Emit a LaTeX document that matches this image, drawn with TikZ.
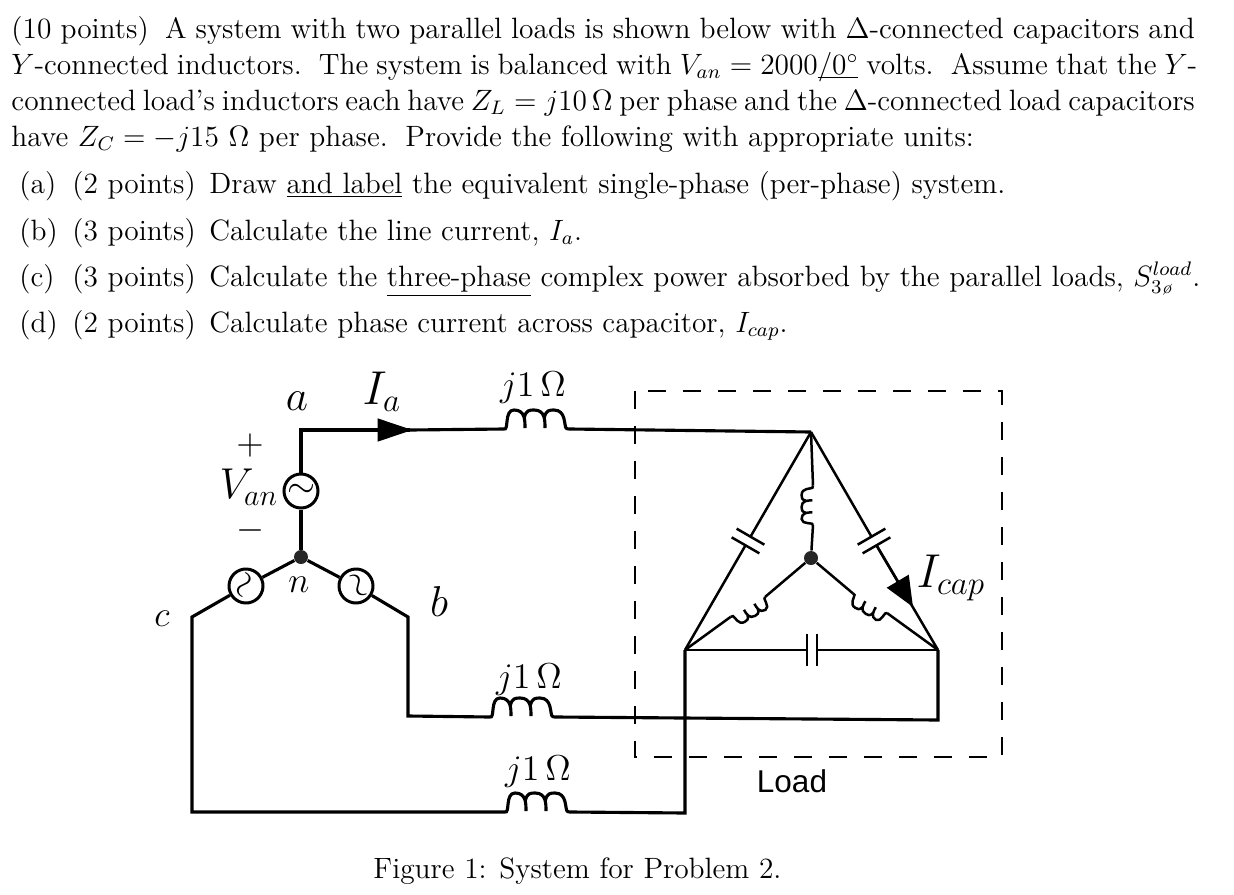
\documentclass[tikz,border=0pt]{standalone}
\usepackage{fontspec}
\usetikzlibrary{arrows.meta}
\newfontfamily\loadfont{Liberation Sans}
\newcommand{\fullline}[1]{\makebox[483pt][s]{#1}}
\newcommand{\qitem}[3]{\makebox[21.6pt][l]{(#1)}\makebox[55.9pt][l]{(#2 points)}#3}
\tikzset{
	wire/.style={line width=1.25pt,line join=miter},
	thinwire/.style={line width=1pt},
	qline/.style={anchor=base west,inner sep=0pt,font=\large,scale=0.98,transform shape},
	mlabel/.style={inner sep=0pt,font=\Large},
	biglabel/.style={inner sep=0pt,font=\LARGE},
	acsrc/.style={circle,draw,fill=white,line width=1.2pt,minimum size=13.6pt,inner sep=0pt,font=\Large},
	dotnode/.style={circle,fill=black!85,inner sep=0pt,minimum size=5.6pt},
	coil/.pic={
		\draw[pic actions] (0,0) .. controls (5,2) and (0,-19) .. (10,-19) .. controls (21,-19) and (21,-9) .. (21,-1)
			(20.5,-12) .. controls (22,-19) and (26,-19) .. (30,-19) .. controls (41,-19) and (41,-9) .. (41,-1)
			(40.5,-12) .. controls (42,-19) and (46,-19) .. (50,-19) .. controls (62,-19) and (60,-4) .. (62,-1) .. controls (62.5,0) and (64,0) .. (66,0);
		\coordinate (-in) at (0,0);
		\coordinate (-out) at (66,0);
	},
	capplates/.pic={
		\draw[pic actions] (-5,-16) -- (-5,16) (5,-16) -- (5,16);
		\coordinate (-in) at (-5,0);
		\coordinate (-out) at (5,0);
	}
}
\begin{document}
\begin{tikzpicture}[x=0.4pt,y=-0.4pt]
	\useasboundingbox (0,0) rectangle (1234,894);

	\node[qline] (q1) at (11,38) {\fullline{(10 points)\hspace{3pt} A system with two parallel loads is shown below with $\Delta$-connected capacitors and}};
	\node[qline] (q2) at (11,74) {\makebox[484pt][s]{$Y$-connected inductors.\hspace{2pt} The system is balanced with $V_{an}=2000\underline{\smash{/}0^\circ}$ volts.\hspace{2pt} Assume that the $Y$-}};
	\node[qline] (q3) at (11,110) {\fullline{connected load's inductors each have $Z_L=j10\,\Omega$ per phase and the $\Delta$-connected load capacitors}};
	\node[qline] (q4) at (11,146) {have $Z_C=-j15\ \Omega$ per phase.\hspace{2pt} Provide the following with appropriate units:};
	\node[qline] (qa) at (19,193) {\qitem{a}{2}{Draw \underline{and label} the equivalent single-phase (per-phase) system.}};
	\node[qline] (qb) at (19,240) {\qitem{b}{3}{Calculate the line current, $I_a$.}};
	\node[qline] (qc) at (19,286) {\qitem{c}{3}{Calculate the \underline{three-phase} complex power absorbed by the parallel loads, $S_{3\mbox{\scriptsize\itshape\o}}^{load}$.}};
	\node[qline] (qd) at (19,332) {\qitem{d}{2}{Calculate phase current across capacitor, $I_{cap}$.}};
	\node[qline] (cap) at (373,878) {Figure 1: System for Problem 2.};

	\coordinate (boxa) at (635,391);
	\coordinate (boxb) at (1002,757);
	\draw[line width=0.6pt,dash pattern=on 7.2pt off 6.8pt] (boxa) rectangle (boxb);

	\node[acsrc] (sa) at (301,491) {$\sim$};
	\node[acsrc,rotate=65] (sc) at (246,586) {$\sim$};
	\node[acsrc,rotate=-65] (sb) at (356,586) {$\sim$};
	\node[dotnode] (n) at (301,557) {};

	\coordinate (a) at (301,430);
	\coordinate (b) at (408,617);
	\coordinate (c) at (192,617);
	\coordinate (ia) at (410,430);
	\coordinate (top) at (811,432);
	\coordinate (bl) at (685,650);
	\coordinate (br) at (938,650);
	\coordinate (cb) at (192,812);
	\coordinate (cc) at (685,813);
	\coordinate (bb) at (408,716);
	\coordinate (bc) at (938,720);
	\coordinate (icap) at (913,607);
	\node[dotnode] (y) at (811,558) {};

	\pic[wire] (la) at (504,429) {coil};
	\pic[wire] (lb) at (490,717) {coil};
	\pic[wire] (lc) at (505,812) {coil};
	\pic[thinwire,scale=0.6,rotate=90] (ly1) at (813,525) {coil};
	\pic[thinwire,scale=0.6,rotate=210] (ly2) at (765,597) {coil};
	\pic[thinwire,scale=0.6,rotate=150] (ly3) at (887,613) {coil};
	\pic[thinwire,rotate=60] (c1) at (748,541) {capplates};
	\pic[thinwire,rotate=-60] (c2) at (874,541) {capplates};
	\pic[thinwire] (c3) at (812,650) {capplates};

	\draw[wire] (sa) -- (a) -- (ia);
	\draw[wire,-{Triangle[length=14pt,width=9pt]},shorten >=-1pt] (a) -- (ia);
	\draw[wire] (ia) -- (la-in);
	\draw[wire] (la-out) -- (top);
	\draw[wire] (sa) -- (n);
	\draw[wire] (n) -- (sb);
	\draw[wire] (n) -- (sc);
	\draw[wire] (sb) -- (b) -- (bb) -- (lb-in);
	\draw[wire] (lb-out) -- (bc) -- (br);
	\draw[wire] (sc) -- (c) -- (cb) -- (lc-in);
	\draw[wire] (lc-out) -- (cc) -- (bl);

	\draw[thinwire] (top) -- (c1-out);
	\draw[thinwire] (c1-in) -- (bl);
	\draw[thinwire] (top) -- (c2-in);
	\draw[thinwire] (c2-out) -- (br);
	\draw[thinwire,-{Triangle[length=12pt,width=10pt]}] (c2-out) -- (icap);
	\draw[thinwire] (bl) -- (c3-in);
	\draw[thinwire] (c3-out) -- (br);
	\draw[thinwire] (top) -- (ly1-out);
	\draw[thinwire] (ly1-in) -- (y);
	\draw[thinwire] (y) -- (ly2-in);
	\draw[thinwire] (ly2-out) -- (bl);
	\draw[thinwire] (y) -- (ly3-out);
	\draw[thinwire] (ly3-in) -- (br);

	\node[biglabel] (la1) at (297,401) {$a$};
	\node[biglabel,scale=1.1,transform shape] (lia) at (382,392) {$I_a$};
	\node[mlabel] (lj1) at (533,388) {$j1\,\Omega$};
	\node[mlabel] (lj2) at (529,680) {$j1\,\Omega$};
	\node[mlabel] (lj3) at (538,772) {$j1\,\Omega$};
	\node[mlabel] (lp) at (250,445) {$+$};
	\node[biglabel] (lv) at (249,487) {$V_{an}$};
	\node[mlabel] (lm) at (250,530) {$-$};
	\node[mlabel] (ln) at (299,585) {$n$};
	\node[biglabel] (lb1) at (439,601) {$b$};
	\node[mlabel] (lc1) at (162,619) {$c$};
	\node[biglabel,scale=1.1,transform shape] (licap) at (951,578) {$I_{cap}$};
	\node[inner sep=0pt,font=\fontsize{12.6}{15}\loadfont] (lload) at (792,781) {Load};
\end{tikzpicture}
\end{document}
